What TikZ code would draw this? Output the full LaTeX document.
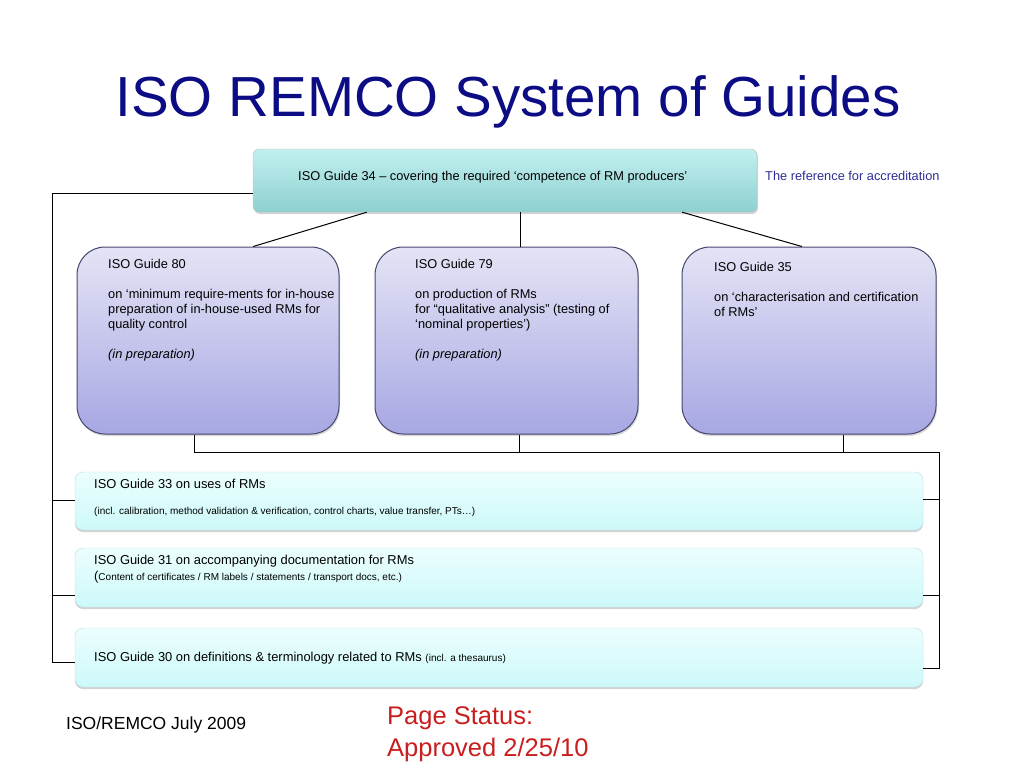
\documentclass[tikz,border=0pt]{standalone}
\usepackage{fontspec}
\setmainfont{Liberation Sans}
\usetikzlibrary{shapes,shadows,calc}

\definecolor{titleblue}{RGB}{12,12,132}
\definecolor{refblue}{RGB}{45,45,150}
\definecolor{statusred}{RGB}{200,30,30}
\definecolor{tealtop}{RGB}{194,240,240}
\definecolor{tealbot}{RGB}{142,208,208}
\definecolor{lilactop}{RGB}{228,228,246}
\definecolor{lilacbot}{RGB}{167,167,227}
\definecolor{lilacline}{RGB}{70,70,110}
\definecolor{bartop}{RGB}{236,254,254}
\definecolor{barbot}{RGB}{205,249,249}
\definecolor{barline}{RGB}{190,220,220}

\begin{document}
\begin{tikzpicture}[x=1pt,y=-1pt,inner sep=0pt,
  topguide/.style={rectangle,rounded corners=6pt,draw=gray!50,top color=tealtop,bottom color=tealbot,
    drop shadow={opacity=.35,shadow xshift=1pt,shadow yshift=-2pt}},
  midguide/.style={rectangle,rounded corners=28pt,draw=lilacline,line width=1pt,top color=lilactop,bottom color=lilacbot,
    drop shadow={opacity=.3,shadow xshift=1pt,shadow yshift=-2pt}},
  barguide/.style={rectangle,rounded corners=8pt,draw=barline,top color=bartop,bottom color=barbot,
    drop shadow={opacity=.35,shadow xshift=0pt,shadow yshift=-2pt}},
  boxtext/.style={anchor=north west,align=left,font=\fontsize{12.8}{15}\selectfont},
  bartext/.style={anchor=base west,font=\fontsize{12.9}{15}\selectfont},
  smalltext/.style={anchor=base west,font=\fontsize{10}{12}\selectfont},
  link/.style={draw=black,line width=1pt}]
\useasboundingbox (0,0) rectangle (1024,768);

\node at (508,116) [anchor=base,text=titleblue,font=\fontsize{56.5}{60}\selectfont] (Title) {ISO REMCO System of Guides};

\node at (505,180.5) [topguide,minimum width=504,minimum height=63] (Guide34) {};
\node at (298,180) [anchor=base west,font=\fontsize{12.8}{15}\selectfont] (Text34) {ISO Guide 34 – covering the required ‘competence of RM producers’};
\node at (765,180) [anchor=base west,text=refblue,font=\fontsize{12.8}{15}\selectfont] (Accred) {The reference for accreditation};

\node at (208,340.5) [midguide,minimum width=262,minimum height=187] (Guide80) {};
\node at (506.5,340.5) [midguide,minimum width=263,minimum height=187] (Guide79) {};
\node at (809,340.5) [midguide,minimum width=254,minimum height=187] (Guide35) {};
\node at (108,259.5) [boxtext] (Text80) {ISO Guide 80\\[15pt]on ‘minimum require-ments for in-house\\preparation of in-house-used RMs for\\quality control\\[15pt]\textit{(in preparation)}};
\node at (415,259.5) [boxtext] (Text79) {ISO Guide 79\\[15pt]on production of RMs\\for “qualitative analysis” (testing of\\‘nominal properties’)\\[15pt]\textit{(in preparation)}};
\node at (714,262.5) [boxtext] (Text35) {ISO Guide 35\\[15pt]on ‘characterisation and certification\\of RMs’};

\node at (499,501) [barguide,minimum width=848,minimum height=58] (Guide33) {};
\node at (499,577.5) [barguide,minimum width=848,minimum height=59] (Guide31) {};
\node at (499,657.5) [barguide,minimum width=848,minimum height=59] (Guide30) {};
\node at (94,488) [bartext] (Text33) {ISO Guide 33 on uses of RMs};
\node at (94,514) [smalltext] (Note33) {(incl. calibration, method validation \& verification, control charts, value transfer, PTs…)};
\node at (94,564) [bartext] (Text31) {ISO Guide 31 on accompanying documentation for RMs};
\node at (94,580) [smalltext] (Note31) {{\fontsize{12.9}{15}\selectfont(}Content of certificates / RM labels / statements / transport docs, etc.)};
\node at (94,661) [bartext] (Text30) {ISO Guide 30 on definitions \& terminology related to RMs {\fontsize{10}{12}\selectfont(incl. a thesaurus)}};

\node at (66,729) [anchor=base west,font=\fontsize{17.5}{20}\selectfont] (Footer) {ISO/REMCO July 2009};
\node at (387,724) [anchor=base west,text=statusred,font=\fontsize{25.5}{32}\selectfont] (Status) {Page Status:};
\node at (387,756) [anchor=base west,text=statusred,font=\fontsize{25.5}{32}\selectfont] (Approved) {Approved 2/25/10};

% links from guide 34
\coordinate (Mid34) at ($(Guide34.south west)!.53!(Guide34.south east)$);
\draw[link] ($(Guide34.south west)!.226!(Guide34.south east)$) -- ($(Guide80.north west)!.672!(Guide80.north east)$);
\draw[link] (Mid34) -- (Mid34 |- Guide79.north);
\draw[link] ($(Guide34.south west)!.851!(Guide34.south east)$) -- ($(Guide35.north west)!.472!(Guide35.north east)$);

% left spine
\coordinate (SpineL) at (52,0);
\coordinate (West34) at ($(Guide34.north west)!.7!(Guide34.south west)$);
\coordinate (West33) at ($(Guide33.north west)!.49!(Guide33.south west)$);
\coordinate (West31) at ($(Guide31.north west)!.8!(Guide31.south west)$);
\coordinate (West30) at ($(Guide30.north west)!.58!(Guide30.south west)$);
\draw[link] (West34) -| (SpineL |- West30) -- (West30);
\draw[link] (West33) -- (West33 -| SpineL);
\draw[link] (West31) -- (West31 -| SpineL);

% bottom bus and right spine
\coordinate (SpineR) at (939,0);
\coordinate (BusY) at (0,452);
\coordinate (South80) at ($(Guide80.south west)!.45!(Guide80.south east)$);
\coordinate (South79) at ($(Guide79.south west)!.551!(Guide79.south east)$);
\coordinate (South35) at ($(Guide35.south west)!.634!(Guide35.south east)$);
\coordinate (East33) at ($(Guide33.north east)!.47!(Guide33.south east)$);
\coordinate (East31) at ($(Guide31.north east)!.81!(Guide31.south east)$);
\coordinate (East30) at ($(Guide30.north east)!.68!(Guide30.south east)$);
\draw[link] (South80) |- (SpineR |- BusY) -- (SpineR |- East30) -- (East30);
\draw[link] (South79) -- (South79 |- BusY);
\draw[link] (South35) -- (South35 |- BusY);
\draw[link] (East33) -- (East33 -| SpineR);
\draw[link] (East31) -- (East31 -| SpineR);

\end{tikzpicture}
\end{document}
